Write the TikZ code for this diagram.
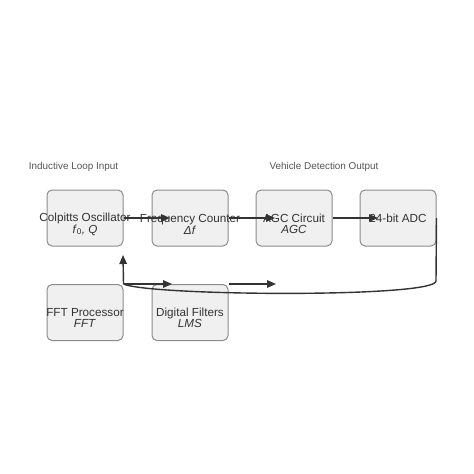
\documentclass[tikz,border=0pt]{standalone}
\usepackage{fontspec}
\setmainfont{Liberation Sans}
\usetikzlibrary{arrows.meta}
\definecolor{boxfill}{HTML}{F0F0F0}
\definecolor{boxline}{HTML}{8C8C8C}
\definecolor{ink}{HTML}{333333}
\definecolor{titlegray}{HTML}{555555}
\begin{document}
\begin{tikzpicture}[x=1pt,y=-1pt,
  blk/.style={draw=boxline, fill=boxfill, rounded corners=5pt, minimum width=76pt, minimum height=56pt, line width=1pt, inner sep=0},
  lbl/.style={font=\fontsize{11.7}{10.8}\selectfont, text=ink, align=center, inner sep=0},
  ttl/.style={font=\fontsize{9.9}{12}\selectfont, text=titlegray, inner sep=0},
  conn/.style={draw=ink, line width=1.4pt, -{Triangle[length=9pt,width=7.5pt]}},
  wire/.style={draw=ink, line width=1.4pt}]
\useasboundingbox (0,0) rectangle (474,474);
% titles
\node[ttl] (tin) at (73.5,167) {Inductive Loop Input};
\node[ttl] (tout) at (324,167) {Vehicle Detection Output};
% boxes
\node[blk] (osc) at (85,218) {};
\node[blk] (cnt) at (190,218) {};
\node[blk] (agc) at (294,218) {};
\node[blk] (adc) at (398,218) {};
\node[blk] (fft) at (85,312.5) {};
\node[blk] (flt) at (190,312.5) {};
% labels
\node[lbl] (oscT) at (85,224) {Colpitts Oscillator\\\textit{f}\textsubscript{0}\textit{, Q}};
\node[lbl] (cntT) at (190,224) {Frequency Counter\\\textit{Δf}};
\node[lbl] (agcT) at (294,224) {AGC Circuit\\\textit{AGC}};
\node[lbl] (adcT) at (398,218.5) {24-bit ADC};
\node[lbl] (fftT) at (85,318) {FFT Processor\\\textit{FFT}};
\node[lbl] (fltT) at (190,318) {Digital Filters\\\textit{LMS}};
% arrow end points
\coordinate (t1) at (170,218);
\coordinate (t2) at (275,218);
\coordinate (t3) at (378,218);
\coordinate (t4) at (172,284);
\coordinate (t5) at (276,284);
\coordinate (t6) at (123,255);
\coordinate (d1) at (436,281);
% connectors
\draw[conn] (osc.east) -- (t1);
\draw[conn] (cnt.east) -- (t2);
\draw[conn] (agc.east) -- (t3);
\draw[wire] (adc.east) -- (d1) .. controls (436,298) and (150,296) .. (fft.north east);
\draw[conn] (fft.north east) -- (t6);
\draw[conn] (fft.north east) -- (t4);
\draw[conn] (flt.north east) -- (t5);
\end{tikzpicture}
\end{document}
